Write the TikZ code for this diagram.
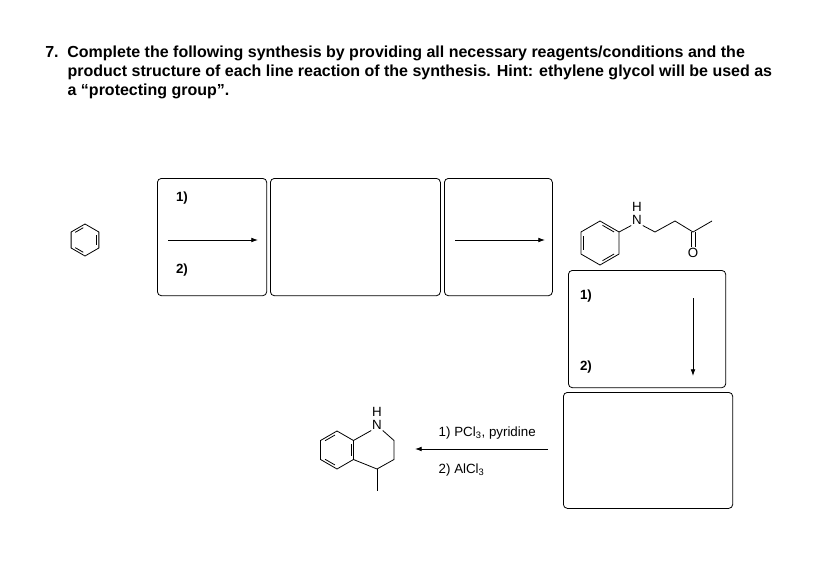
\documentclass[tikz,border=0pt]{standalone}
\usepackage{fontspec}
\setmainfont{Liberation Sans}
\usetikzlibrary{calc,arrows.meta}
\begin{document}
\begin{tikzpicture}[x=0.75pt,y=-0.75pt,
  bx/.style={draw,rounded corners=3pt,line width=0.6pt},
  bd/.style={line width=0.6pt},
  arr/.style={-{Latex[length=5pt,width=3.5pt]},line width=0.6pt},
  lab/.style={font=\fontsize{10pt}{12pt}\selectfont\bfseries},
  txt/.style={font=\fontsize{10pt}{12pt}\selectfont},
  atom/.style={font=\fontsize{10pt}{12pt}\selectfont,inner sep=0.5pt}]
\useasboundingbox (0,0) rectangle (815,578);
\node[anchor=north west,align=left,inner sep=0,font=\fontsize{12pt}{14.3pt}\selectfont\bfseries] (t) at (45,46)
{7.\hspace{0.55em}Complete the following synthesis by providing all necessary reagents/conditions and the\\
\hspace{1.4em}product structure of each line reaction of the synthesis. Hint: ethylene glycol will be used as\\
\hspace{1.4em}a ``protecting group''.};
% benzene
\def\bx{85}\def\by{240}
\foreach \i in {0,...,5}{\coordinate (b\i) at ({\bx+16*cos(90+60*\i)},{\by-16*sin(90+60*\i)});}
\draw[bd] (b0)--(b1)--(b2)--(b3)--(b4)--(b5)--cycle;
\foreach \a/\b in {0/1,2/3,4/5}{\draw[bd] ($(b\a)!0.15!(b\b)!0.17!(\bx,\by)$) -- ($(b\b)!0.15!(b\a)!0.17!(\bx,\by)$);}
% boxes
\node[bx,minimum width=82pt,minimum height=88pt,anchor=north west] (B1) at (157,178) {};
\node[bx,minimum width=127.5pt,minimum height=88pt,anchor=north west] (B2) at (270,178) {};
\node[bx,minimum width=81pt,minimum height=88pt,anchor=north west] (B3) at (444,178) {};
\node[bx,minimum width=118pt,minimum height=88pt,anchor=north west] (B4) at (568,270) {};
\node[bx,minimum width=127pt,minimum height=87pt,anchor=north west] (B5) at (563,392) {};
\coordinate (a1s) at (168,240); \coordinate (a1e) at (258,240);
\draw[arr] (a1s)--(a1e);
\coordinate (a2s) at (455,240); \coordinate (a2e) at (545,240);
\draw[arr] (a2s)--(a2e);
\node[lab] (l1) at (182,198) {1)};
\node[lab] (l2) at (182,270) {2)};
\node[lab] (l3) at (586,296) {1)};
\node[lab] (l4) at (586,367) {2)};
\coordinate (a3s) at (693,298); \coordinate (a3e) at (693,376);
\draw[arr] (a3s)--(a3e);
\coordinate (a4s) at (548,449); \coordinate (a4e) at (415,449);
\draw[arr] (a4s)--(a4e);
\node[txt,anchor=west] (r1) at (434,433) {1) PCl\textsubscript{3}, pyridine};
\node[txt,anchor=west] (r2) at (434,470) {2) AlCl\textsubscript{3}};
% product 1
\def\cx{600}\def\cy{243}\def\r{22}
\foreach \i in {0,...,5}{\coordinate (p\i) at ({\cx+\r*cos(90+60*\i)},{\cy-\r*sin(90+60*\i)});}
\draw[bd] (p0)--(p1)--(p2)--(p3)--(p4)--(p5)--cycle;
\foreach \a/\b in {1/2,3/4,5/0}{\draw[bd] ($(p\a)!0.15!(p\b)!0.13!(\cx,\cy)$) -- ($(p\b)!0.15!(p\a)!0.13!(\cx,\cy)$);}
\node[atom] (N1) at (637,220) {N};
\node[atom] (H1) at (637,207) {H};
\coordinate (c1) at (655,232); \coordinate (c2) at (675,221);
\coordinate (c3) at (693,232); \coordinate (c4) at (712,221);
\node[atom] (O1) at (693,253) {O};
\draw[bd] (p5)--(N1.south west); \draw[bd] (N1.south east)--(c1)--(c2)--(c3)--(c4);
\draw[bd] ([xshift=-1.5pt]c3)--([xshift=-1.5pt]O1.north); \draw[bd] ([xshift=1.5pt]c3)--([xshift=1.5pt]O1.north);
% product 2
\def\qx{337}\def\qy{450}\def\q{19}
\foreach \i in {0,...,5}{\coordinate (q\i) at ({\qx+\q*cos(90+60*\i)},{\qy-\q*sin(90+60*\i)});}
\draw[bd] (q0)--(q1)--(q2)--(q3)--(q4)--(q5)--cycle;
\foreach \a/\b in {0/1,2/3,4/5}{\draw[bd] ($(q\a)!0.15!(q\b)!0.15!(\qx,\qy)$) -- ($(q\b)!0.15!(q\a)!0.15!(\qx,\qy)$);}
\node[atom] (N2) at (377,425) {N};
\node[atom] (H2) at (377,412) {H};
\coordinate (d1) at (394,440.5); \coordinate (d2) at (394,459.5);
\coordinate (d3) at (377,469); \coordinate (me) at (377,491);
\draw[bd] (q5)--(N2.south west); \draw[bd] (N2.south east)--(d1)--(d2)--(d3)--(q4);
\draw[bd] (d3)--(me);
\end{tikzpicture}
\end{document}
